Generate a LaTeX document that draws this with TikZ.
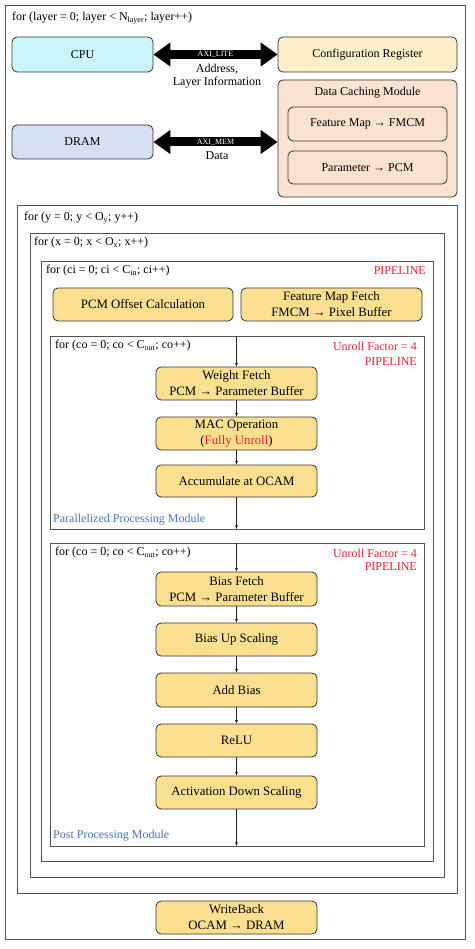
\documentclass[tikz,border=0pt]{standalone}
\usepackage{fontspec}
\setmainfont{Liberation Serif}
\usetikzlibrary{arrows.meta}
\definecolor{cpuc}{HTML}{C8F6FA}
\definecolor{cfgc}{HTML}{FDEFC8}
\definecolor{peach}{HTML}{FCE2D1}
\definecolor{dramc}{HTML}{D6DEF1}
\definecolor{yel}{HTML}{FCDF8F}
\definecolor{redc}{HTML}{E8202E}
\definecolor{bluec}{HTML}{4A74C6}
\definecolor{framec}{HTML}{555555}
\tikzset{
  box/.style={draw=black!80, line width=0.8pt, rounded corners=5pt, inner sep=0pt, align=center, font=\fontsize{12}{14}\selectfont},
  ybox/.style={box, fill=yel, minimum width=161pt, font=\fontsize{12.8}{16}\selectfont},
  frame/.style={draw=framec, line width=0.9pt},
  ttl/.style={anchor=west, inner sep=0pt, font=\fontsize{12}{14}\selectfont},
  redl/.style={anchor=east, inner sep=0pt, text=redc, font=\fontsize{12}{14}\selectfont},
  modl/.style={anchor=west, inner sep=0pt, text=bluec, font=\fontsize{12}{14}\selectfont},
  bigarr/.style={line width=9pt, {Triangle[length=17pt,width=23pt]}-{Triangle[length=17pt,width=23pt]}},
  flow/.style={-{Stealth[length=4pt,width=3pt]}, line width=0.6pt, draw=black!85},
  busl/.style={text=white, inner sep=0pt, font=\fontsize{8}{9}\selectfont},
}
\begin{document}
\begin{tikzpicture}[x=1pt,y=-1pt]
\useasboundingbox (0,0) rectangle (474,949);
\fill[white] (0,0) rectangle (474,949);
% frames
\draw[frame] (5,5) rectangle (465,939);
\node[ttl] (tlayer) at (12,18) {for (layer = 0; layer < N\textsubscript{layer}; layer++)};
\draw[frame] (17,205) rectangle (457,893);
\node[ttl] (ty) at (24,218) {for (y = 0; y < O\textsubscript{y}; y++)};
\draw[frame] (30,233) rectangle (444,877);
\node[ttl] (tx) at (34,243) {for (x = 0; x < O\textsubscript{x}; x++)};
\draw[frame] (41,261) rectangle (433,861);
\node[ttl] (tci) at (46,271) {for (ci = 0; ci < C\textsubscript{in}; ci++)};
\node[redl] (pci) at (426,271) {PIPELINE};
\draw[frame] (50,336) rectangle (424,529);
\node[ttl] (tco1) at (55,346) {for (co = 0; co < C\textsubscript{out}; co++)};
\node[redl] (u1) at (417,346) {Unroll Factor = 4};
\node[redl] (p1) at (417,362) {PIPELINE};
\node[modl] (m1) at (53,520) {Parallelized Processing Module};
\draw[frame] (50,543) rectangle (424,846);
\node[ttl] (tco2) at (55,553) {for (co = 0; co < C\textsubscript{out}; co++)};
\node[redl] (u2) at (417,553) {Unroll Factor = 4};
\node[redl] (p2) at (417,567) {PIPELINE};
\node[modl] (m2) at (53,836) {Post Processing Module};
% top blocks
\node[box, fill=cpuc, minimum width=141pt, minimum height=35pt] (cpu) at (82.5,54.5) {CPU};
\node[box, fill=cfgc, minimum width=179pt, minimum height=35pt] (cfg) at (367.5,54.5) {Configuration Register};
\node[box, fill=dramc, minimum width=141pt, minimum height=34pt] (dram) at (82.5,142) {DRAM};
\node[box, fill=peach, minimum width=179pt, minimum height=117pt] (dcm) at (367.5,138.5) {};
\node[inner sep=0pt, font=\fontsize{12}{14}\selectfont] (dcmt) at (367.5,93) {Data Caching Module};
\node[box, fill=peach, minimum width=159pt, minimum height=34pt] (fm) at (367.5,124) {Feature Map → FMCM};
\node[box, fill=peach, minimum width=159pt, minimum height=33pt] (pm) at (367.5,167.5) {Parameter → PCM};
\draw[bigarr] (cpu.east) -- (cfg.west) node[midway, busl] (axil) {AXI\_LITE};
\node[align=center, inner sep=0pt, font=\fontsize{12}{13}\selectfont] (addr) at (217,76) {Address,\\Layer Information};
\coordinate (memend) at (dram.east -| dcm.west);
\draw[bigarr] (dram.east) -- (memend) node[midway, busl] (axim) {AXI\_MEM};
\node[inner sep=0pt, font=\fontsize{12}{14}\selectfont] (data) at (217,156) {Data};
% ci level
\node[box, fill=yel, minimum width=180pt, minimum height=33pt, font=\fontsize{12.8}{16}\selectfont] (pcmo) at (143,304.5) {PCM Offset Calculation};
\node[box, fill=yel, minimum width=181pt, minimum height=33pt, font=\fontsize{12.8}{16}\selectfont] (fmf) at (331.5,304.5) {Feature Map Fetch\\FMCM → Pixel Buffer};
% co loop 1
\node[ybox, minimum height=33pt] (wf) at (236.5,383.5) {Weight Fetch\\PCM → Parameter Buffer};
\node[ybox, minimum height=33pt] (mac) at (236.5,433.5) {MAC Operation\\(\textcolor{redc}{Fully Unroll})};
\node[ybox, minimum height=32pt] (acc) at (236.5,481) {Accumulate at OCAM};
\coordinate (in1) at (236.5,336);
\coordinate (out1) at (236.5,529);
\draw[flow] (in1) -- (wf);
\draw[flow] (wf) -- (mac);
\draw[flow] (mac) -- (acc);
\draw[flow] (acc) -- (out1);
% co loop 2
\node[ybox, minimum height=34pt] (bf) at (236.5,589) {Bias Fetch\\PCM → Parameter Buffer};
\node[ybox, minimum height=33pt] (bus) at (236.5,639.5) {Bias Up Scaling};
\node[ybox, minimum height=34pt] (ab) at (236.5,690) {Add Bias};
\node[ybox, minimum height=33pt] (relu) at (236.5,740.5) {ReLU};
\node[ybox, minimum height=33pt] (ads) at (236.5,792.5) {Activation Down Scaling};
\coordinate (in2) at (236.5,543);
\coordinate (out2) at (236.5,846);
\draw[flow] (in2) -- (bf);
\draw[flow] (bf) -- (bus);
\draw[flow] (bus) -- (ab);
\draw[flow] (ab) -- (relu);
\draw[flow] (relu) -- (ads);
\draw[flow] (ads) -- (out2);
% writeback
\node[ybox, minimum height=33pt] (wb) at (236.5,917.5) {WriteBack\\OCAM → DRAM};
\end{tikzpicture}
\end{document}
